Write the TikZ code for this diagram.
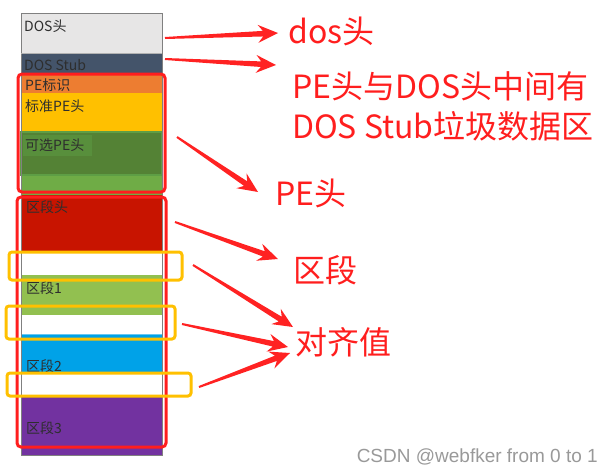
\documentclass[tikz,border=0pt]{standalone}
\usepackage{fontspec}
\setmainfont{Noto Sans CJK SC}
\newfontfamily\wmfont{Liberation Sans}
\usetikzlibrary{calc}
\definecolor{dosgray}{HTML}{E7E6E6}
\definecolor{stubblue}{HTML}{44546A}
\definecolor{peorange}{HTML}{ED7D31}
\definecolor{stdyellow}{HTML}{FFC000}
\definecolor{optgreen}{HTML}{548235}
\definecolor{optedge}{HTML}{5E9E45}
\definecolor{lightgreen}{HTML}{6FAC46}
\definecolor{secred}{HTML}{C81400}
\definecolor{secgreen}{HTML}{92C050}
\definecolor{secblue}{HTML}{00A2E8}
\definecolor{secpurple}{HTML}{7232A0}
\definecolor{boxred}{HTML}{FF1E1E}
\definecolor{gapyellow}{HTML}{FFC000}
\definecolor{arrowred}{HTML}{FF2222}
\tikzset{
  bandtext/.style={anchor=base west,inner sep=0pt,font=\fontsize{14}{16}\selectfont,text=black!82},
  redtext/.style={anchor=base west,inner sep=0pt,text=boxred,font=\fontsize{32}{40}\selectfont,align=left},
  redbox/.style={draw=boxred,line width=3pt,rounded corners=4pt},
  gapbox/.style={draw=gapyellow,line width=3pt,rounded corners=3pt}
}
% tapered arrow from #1 to #2
\newcommand\fatarrow[2]{%
  \coordinate (fa-n) at ($(#2)!15pt!(#1)$);
  \coordinate (fa-h) at ($(#2)!20pt!(#1)$);
  \fill[arrowred] ($(#1)!1pt!90:(#2)$) -- ($(fa-n)!2.8pt!90:(#2)$) -- ($(fa-h)!9pt!90:(#2)$) -- (#2)
    -- ($(fa-h)!9pt!-90:(#2)$) -- ($(fa-n)!2.8pt!-90:(#2)$) -- ($(#1)!1pt!-90:(#2)$) -- cycle;}
\begin{document}
\begin{tikzpicture}[x=1pt,y=-1pt]
  \useasboundingbox (0,0) rectangle (615,472);
  % the column
  \fill[dosgray] (21,13) rectangle (162,53);
  \fill[stubblue] (21,53) rectangle (162,75);
  \fill[peorange] (21,75) rectangle (162,93);
  \fill[stdyellow] (21,93) rectangle (162,132);
  \fill[lightgreen] (21,132) rectangle (162,195);
  \filldraw[fill=optgreen,draw=optedge,line width=1.5pt] (21,132) rectangle (162,175);
  \fill[optedge!45!optgreen] (23,135) rectangle (92,156);
  \fill[secred] (21,195) rectangle (162,252);
  \fill[secgreen] (21,275) rectangle (162,315);
  \fill[secblue] (21,335) rectangle (162,373);
  \fill[secpurple] (21,397) rectangle (162,455);
  \draw[gray,line width=0.8pt] (21,13) rectangle (162,455);
  \draw[gray!60,line width=0.5pt] (21,53) -- (162,53);
  \node[bandtext] (dos) at (24,31) {DOS头};
  \node[bandtext] (stub) at (24,70) {DOS Stub};
  \node[bandtext] (sig) at (25,90) {PE标识};
  \node[bandtext] (stdhdr) at (25,111) {标准PE头};
  \node[bandtext] (opthdr) at (25,150) {可选PE头};
  \node[bandtext] (sechdr) at (26,212) {区段头};
  \node[bandtext] (sec1) at (26,293) {区段1};
  \node[bandtext] (sec2) at (26,371) {区段2};
  \node[bandtext] (sec3) at (26,433) {区段3};
  % alignment gaps
  \fill[white] (21.5,252) rectangle (161.5,275);
  \fill[white] (21.5,315) rectangle (161.5,334);
  \fill[white] (21.5,373) rectangle (161.5,397);
  \draw[secblue!60,line width=1pt] (21.5,334.5) -- (161.5,334.5);
  % frames
  \draw[redbox] (18,74) rectangle (165,192);
  \draw[redbox] (17,197) rectangle (166,447);
  \draw[gapbox] (9,252) rectangle (182,280);
  \draw[gapbox] (6,306) rectangle (175,339);
  \draw[gapbox] (7,373) rectangle (191,396);
  % labels
  \node[redtext] (doslbl) at (288,43) {dos头};
  \node[redtext] (stublbl) at (292,138) {PE头与DOS头中间有\\DOS Stub垃圾数据区};
  \node[redtext] (pelbl) at (275,205) {PE头};
  \node[redtext] (seclbl) at (293,282) {区段};
  \node[redtext] (alignlbl) at (295,354) {对齐值};
  \node[anchor=base east,inner sep=0pt,text=black!40,font=\wmfont\fontsize{19}{20}\selectfont] (mark) at (598,462) {CSDN @webfker from 0 to 1};
  % arrows
  \coordinate (a1) at (165,38);  \coordinate (t1) at (278,33);
  \coordinate (a2) at (165,59);  \coordinate (t2) at (276,65);
  \coordinate (a3) at (177,137); \coordinate (t3) at (258,192);
  \coordinate (a4) at (175,222); \coordinate (t4) at (278,259);
  \coordinate (a5) at (193,265); \coordinate (t5) at (293,327);
  \coordinate (a6) at (182,324); \coordinate (t6) at (288,347);
  \coordinate (a7) at (199,387); \coordinate (t7) at (290,353);
  \fatarrow{a1}{t1}
  \fatarrow{a2}{t2}
  \fatarrow{a3}{t3}
  \fatarrow{a4}{t4}
  \fatarrow{a5}{t5}
  \fatarrow{a6}{t6}
  \fatarrow{a7}{t7}
\end{tikzpicture}
\end{document}
